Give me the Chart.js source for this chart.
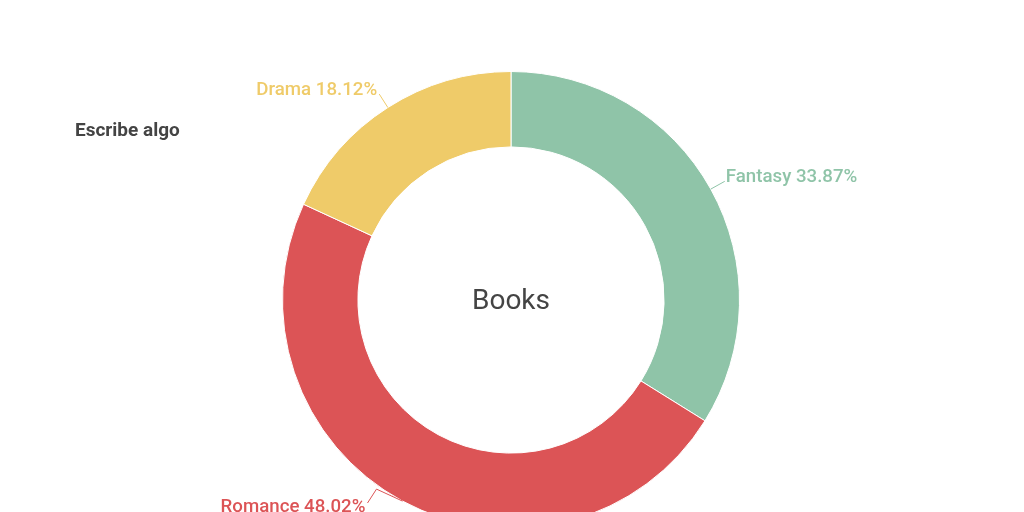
<!DOCTYPE html>
<html>
<head>
<meta charset="utf-8">
<script src="https://cdn.jsdelivr.net/npm/chart.js@4.4.1/dist/chart.umd.min.js"></script>
<style>
  html, body { margin: 0; padding: 0; background: #fff; overflow: hidden; }
  #wrap { position: relative; width: 1024px; height: 600px; }
</style>
</head>
<body>
<div id="wrap"><canvas id="chart"></canvas></div>
<script>
// data
const categories = ['Fantasy', 'Romance', 'Drama'];
const values = [33.87, 48.02, 18.12];
const colors = ['#8fc4a8', '#dc5456', '#efcb69'];
const chartTitle = 'Escribe algo';
const centerText = 'Books';

const FONT = 'Roboto, "Noto Sans", sans-serif';

// slice labels with leader lines + title + center text
const labelPlugin = {
	id: 'labels',
	afterDraw(chart) {
		const ctx = chart.ctx;
		const H = 512;
		const meta = chart.getDatasetMeta(0);
		ctx.save();
		ctx.font = '500 18.7px ' + FONT;
		ctx.lineWidth = 1;
		meta.data.forEach((arc, i) => {
			const p = arc.getProps(['x', 'y', 'startAngle', 'endAngle', 'outerRadius'], true);
			const mid = (p.startAngle + p.endAngle) / 2;
			const cx = Math.cos(mid), cy = Math.sin(mid);
			const ax = p.x + cx * p.outerRadius, ay = p.y + cy * p.outerRadius;
			let ex = p.x + cx * (p.outerRadius + 16), ey = p.y + cy * (p.outerRadius + 16);
			const pts = [[ax, ay]];
			let tx, ty;
			const left = cx < 0;
			if (ey > H - 12) {
				// label would fall off the bottom: bend it back up
				const bx = ax + (left ? -26 : 26), by = ay - 12;
				pts.push([bx, by]);
				ex = bx + (left ? -9 : 9);
				ey = H - 9;
				pts.push([ex, ey]);
				ty = H;
			} else {
				pts.push([ex, ey]);
				ty = ey + 1;
			}
			ctx.strokeStyle = colors[i];
			ctx.beginPath();
			ctx.moveTo(pts[0][0], pts[0][1]);
			for (let k = 1; k < pts.length; k++) ctx.lineTo(pts[k][0], pts[k][1]);
			ctx.stroke();
			ctx.fillStyle = colors[i];
			ctx.textBaseline = 'alphabetic';
			ctx.textAlign = left ? 'right' : 'left';
			tx = left ? ex - 2 : ex + 1;
			ctx.fillText(categories[i] + ' ' + values[i].toFixed(2) + '%', tx, ty);
		});

		// center text
		const a0 = meta.data[0];
		ctx.fillStyle = '#444';
		ctx.textAlign = 'center';
		ctx.textBaseline = 'alphabetic';
		ctx.font = '28px ' + FONT;
		ctx.fillText(centerText, a0.x, a0.y + 9);

		// title
		ctx.font = 'bold 19px ' + FONT;
		ctx.textAlign = 'left';
		ctx.fillText(chartTitle, 75, 136);
		ctx.restore();
	}
};

const ctx = document.getElementById('chart').getContext('2d');
const chart = new Chart(ctx, {
	type: 'doughnut',
	data: {
		labels: categories,
		datasets: [{
			data: values,
			backgroundColor: colors,
			borderColor: '#fff',
			borderWidth: 1
		}]
	},
	options: {
		responsive: true,
		maintainAspectRatio: false,
		animation: false,
		cutout: '67%',
		layout: { padding: { top: 71, bottom: 71, left: 0, right: 2 } },
		plugins: {
			legend: { display: false },
			tooltip: { enabled: false }
		}
	},
	plugins: [labelPlugin]
});
</script>
</body>
</html>
